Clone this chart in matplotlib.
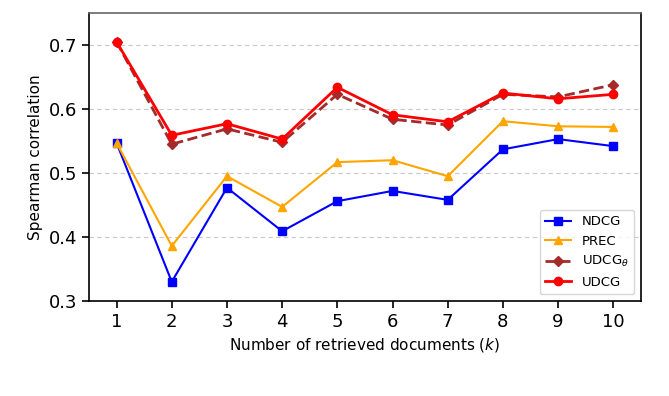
import numpy as np
import matplotlib.pyplot as plt

k = np.arange(1, 11)
ndcg = [0.547, 0.330, 0.477, 0.409, 0.456, 0.472, 0.458, 0.537, 0.553, 0.542]
prec = [0.547, 0.386, 0.495, 0.447, 0.517, 0.520, 0.495, 0.581, 0.573, 0.572]
udcg_theta = [0.705, 0.545, 0.569, 0.548, 0.623, 0.584, 0.575, 0.623, 0.619, 0.638]
udcg = [0.705, 0.559, 0.577, 0.553, 0.634, 0.591, 0.580, 0.625, 0.616, 0.623]

fig = plt.figure(figsize=(6.69, 3.96), dpi=100)
ax = fig.add_axes([0.133, 0.240, 0.825, 0.727])

ax.plot(k, ndcg, color='blue', marker='s', markersize=6, linewidth=1.5, label='NDCG')
ax.plot(k, prec, color='orange', marker='^', markersize=6, linewidth=1.5, label='PREC')
ax.plot(k, udcg_theta, color='brown', marker='D', markersize=5, linewidth=2, linestyle='--',
        label=r'UDCG$_\theta$')
ax.plot(k, udcg, color='red', marker='o', markersize=6, linewidth=2, label='UDCG')

ax.set_xlim(0.5, 10.5)
ax.set_ylim(0.3, 0.75)
ax.set_xticks(k)
ax.set_yticks([0.3, 0.4, 0.5, 0.6, 0.7])
ax.tick_params(axis='both', labelsize=13, width=1.2, length=5)
for s in ax.spines.values():
    s.set_linewidth(1.2)
ax.spines['top'].set_color('#666666')
ax.grid(axis='y', linestyle=(0, (4, 3)), color='#c8c8c8', linewidth=0.8)
ax.set_axisbelow(True)
ax.set_xlabel('Number of retrieved documents ($k$)', fontsize=11)
ax.set_ylabel('Spearman correlation', fontsize=11)
ax.legend(loc='lower right', fontsize=9.5)

fig.savefig('out.png', dpi=100)
